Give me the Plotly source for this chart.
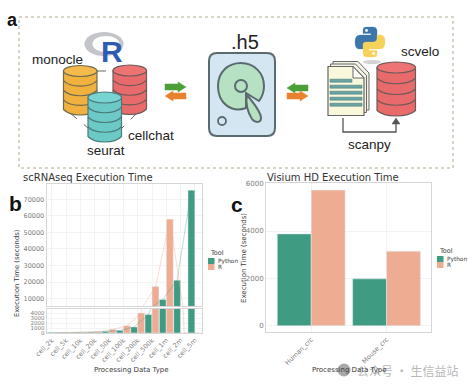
import plotly.graph_objects as go

W, H = 474, 389

# ---------- data ----------
sc_categories = ["cell_2k", "cell_5k", "cell_10k", "cell_20k", "cell_50k", "cell_100k",
                 "cell_200k", "cell_500k", "cell_1m", "cell_2m", "cell_5m"]
sc_python = [30, 50, 90, 150, 300, 500, 1200, 3700, 9500, 21200, 75500]
sc_r = [40, 70, 120, 250, 700, 1450, 4000, 17400, 58000, 0, 0]
hd_categories = ["Human_crc", "Mouse_crc"]
hd_python = [3880, 1980]
hd_r = [5730, 3150]
upper_ticks = [10000, 20000, 30000, 40000, 50000, 60000, 70000]
lower_ticks = [0, 1000, 2000, 3000, 4000]
hd_ticks = [0, 2000, 4000, 6000]

GREEN = "#409b83"
SALMON = "#eeac92"
GREY = "#7d7d7d"
DARK = "#3a3a3a"
BORDER = "#d6d6d6"
SANS = "DejaVu Sans"
ARIAL = "Liberation Sans"


def dom_x(a, b):
    return [a / W, b / W]


def dom_y(top, bottom):
    return [1 - bottom / H, 1 - top / H]


fig = go.Figure()
idx = list(range(len(sc_categories)))
hd_idx = list(range(len(hd_categories)))

for xa, ya in (("x", "y"), ("x2", "y2")):
    fig.add_trace(go.Bar(x=idx, y=sc_python, name="Python", marker_color=GREEN, xaxis=xa, yaxis=ya,
                         showlegend=False, width=0.48, offset=-0.49))
    fig.add_trace(go.Bar(x=idx, y=sc_r, name="R", marker_color=SALMON, xaxis=xa, yaxis=ya,
                         showlegend=False, width=0.48, offset=0.0))
    fig.add_trace(go.Scatter(x=[i - 0.25 for i in idx], y=sc_python, mode="lines", xaxis=xa, yaxis=ya,
                             line=dict(color="rgba(64,155,131,0.35)", width=1), showlegend=False))
    fig.add_trace(go.Scatter(x=[i + 0.25 for i in idx], y=sc_r, mode="lines", xaxis=xa, yaxis=ya,
                             line=dict(color="rgba(238,172,146,0.4)", width=1), showlegend=False))

fig.add_trace(go.Bar(x=hd_idx, y=hd_python, name="Python", marker_color=GREEN, xaxis="x3", yaxis="y3",
                     showlegend=False, width=0.45, offset=-0.45))
fig.add_trace(go.Bar(x=hd_idx, y=hd_r, name="R", marker_color=SALMON, xaxis="x3", yaxis="y3",
                     showlegend=False, width=0.45, offset=0.0))
# transparent full-canvas layer, its axes are in page pixels and carry the drawing of panel a
fig.add_trace(go.Scatter(x=[0], y=[0], mode="markers", marker=dict(opacity=0), xaxis="x4", yaxis="y4",
                         showlegend=False, hoverinfo="skip"))

ax_common = dict(showline=True, linecolor=BORDER, linewidth=1, mirror=True, zeroline=False,
                 gridcolor="#f3f3f3", gridwidth=1, ticks="", automargin=False)
hidden = dict(domain=[0, 1], showline=False, showgrid=False, zeroline=False, showticklabels=False, ticks="",
              fixedrange=True, automargin=False)
fig.update_layout(
    width=W, height=H, margin=dict(l=0, r=0, t=0, b=0, pad=0), paper_bgcolor="white", plot_bgcolor="rgba(0,0,0,0)",
    barmode="overlay", showlegend=False, font=dict(family=SANS),
    xaxis=dict(domain=dom_x(46.5, 202), anchor="y", range=[-0.37, 10.49], tickvals=idx, ticktext=[""] * len(idx),
               **ax_common),
    yaxis=dict(domain=dom_y(184, 306), anchor="x", range=[5600, 79200], tickvals=upper_ticks, tickformat="d",
               tickfont=dict(size=6.5, color=GREY), **ax_common),
    xaxis2=dict(domain=dom_x(46.5, 202), anchor="y2", range=[-0.37, 10.49], tickvals=idx, ticktext=sc_categories,
                tickangle=-45, tickfont=dict(size=6.5, color=GREY), **ax_common),
    yaxis2=dict(domain=dom_y(309, 333), anchor="x2", range=[0, 4800], tickvals=lower_ticks, tickformat="d",
                tickfont=dict(size=5.5, color=GREY), **ax_common),
    xaxis3=dict(domain=dom_x(266, 431), anchor="y3", range=[-0.6, 1.59], tickvals=hd_idx, ticktext=hd_categories,
                tickangle=-45, tickfont=dict(size=6.5, color=GREY), **ax_common),
    yaxis3=dict(domain=dom_y(183, 332), anchor="x3", range=[-266, 6030], tickvals=hd_ticks, tickformat="d",
                tickfont=dict(size=7, color=GREY), **ax_common),
    xaxis4=dict(anchor="y4", range=[0, W], **hidden),
    yaxis4=dict(anchor="x4", range=[H, 0], **hidden),
)

shapes, notes = [], []


def shape(kind, **kw):
    kw.setdefault("line", dict(width=0))
    shapes.append(dict(type=kind, xref="x4", yref="y4", layer="above", **kw))


def path(d, fill="rgba(0,0,0,0)", color="#555555", width=1.0, dash=None):
    line = dict(color=color, width=width)
    if dash:
        line["dash"] = dash
    shape("path", path=d, fillcolor=fill, line=line)


def line(x0, y0, x1, y1, color="#555555", width=1.0, dash=None):
    l = dict(color=color, width=width)
    if dash:
        l["dash"] = dash
    shape("line", x0=x0, y0=y0, x1=x1, y1=y1, line=l)


def ellipse(cx, cy, rx, ry, fill, color=None, width=1.0):
    shape("circle", x0=cx - rx, x1=cx + rx, y0=cy - ry, y1=cy + ry, fillcolor=fill,
          line=dict(color=color or fill, width=width if color else 0))


def rect(x0, y0, x1, y1, fill, color=None, width=1.0):
    shape("rect", x0=x0, x1=x1, y0=y0, y1=y1, fillcolor=fill,
          line=dict(color=color or fill, width=width if color else 0))


def text(x, y, s, size, color="#222222", family=ARIAL, angle=0, xanchor="center", bold=False):
    notes.append(dict(x=x, y=y, xref="x4", yref="y4", text=f"<b>{s}</b>" if bold else s, showarrow=False,
                      xanchor=xanchor, yanchor="middle", textangle=angle,
                      font=dict(size=size, color=color, family=family)))


def arc(x0, x1, y, ry):
    return f"C {x0 + 0.2 * (x1 - x0)},{y + ry * 1.33} {x1 - 0.2 * (x1 - x0)},{y + ry * 1.33} {x1},{y}"


def cylinder(x0, x1, top, bottom, fill, light, stroke, bands=4):
    ry = 5.5
    yt, yb = top + ry, bottom - ry
    path(f"M {x0},{yt} L {x0},{yb} {arc(x0, x1, yb, ry)} L {x1},{yt} Z", fill=fill, color=stroke, width=1.2)
    step = (yb - yt) / bands
    for i in range(1, bands):
        y = yt + i * step
        path(f"M {x0},{y} {arc(x0, x1, y, ry)}", color=stroke, width=1.2)
    ellipse((x0 + x1) / 2, yt, (x1 - x0) / 2, ry, light, stroke, 1.2)


def arrow(x0, x1, y, color):
    d = 1 if x1 > x0 else -1
    n = x1 - d * 8
    path(f"M {x0},{y - 3} L {n},{y - 3} L {n},{y - 5} L {x1},{y} L {n},{y + 5} L {n},{y + 3} L {x0},{y + 3} Z",
         fill=color, color=color, width=0.5)


# frame of panel a
DOT = "#cdc8b4"
path("M 19,17 L 453,17 L 453,168 L 19,168 Z", color=DOT, width=1.5, dash="dot")

# R logo
ellipse(104, 44, 19.5, 12, "#c3c5c9")
ellipse(106, 44, 13.5, 8, "white")
text(112, 51.5, "R", 30, color="#2c5db3", bold=True)

# databases of the left group
DASH = "#666666"
line(97, 71, 113, 71, DASH, 1, "dash")
line(70, 113, 88, 128, DASH, 1, "dash")
line(137, 113, 122, 128, DASH, 1, "dash")
cylinder(63.5, 97, 65.5, 115, "#f1b13e", "#f4bb4c", "#6e6a50")
cylinder(113, 146.5, 65, 114.5, "#e96a6a", "#ee7474", "#6e5a5a")
cylinder(88, 121.5, 92, 142, "#6ccac6", "#78d4d0", "#4c7a7c")
text(57, 59, "monocle", 13.5)
text(151, 135, "cellchat", 13.5)
text(105.5, 150, "seurat", 13.5)

arrow(165, 186, 87, "#4c9f38")
arrow(186, 165, 96, "#e9822f")

# hard disk
text(245, 42, ".h5", 20)
DISK = "#5b6a6f"
path("M 217,53 L 267,53 Q 275,53 275,61 L 275,128 Q 275,136 267,136 L 217,136 Q 209,136 209,128 "
     "L 209,61 Q 209,53 217,53 Z", fill="#d3e6f1", color=DISK, width=2)
path("M 246,108 C 232,113 218,104 218,86 C 218,72 228,63 241,63 C 254,63 264,73 264,86 C 264,92 262,97 259,101 "
     "L 246,93 Z", fill="#b6e2c3", color=DISK, width=2)
ellipse(241, 86, 6, 6, "#b6e2c3", DISK, 2)
path("M 247,95 C 252,101 261,112 261,118 C 261,123 255,123 252,119 C 248,113 245,103 247,95 Z",
     fill="#b6e2c3", color=DISK, width=2)
ellipse(222, 121, 4, 4, "#d3e6f1", DISK, 1.8)

arrow(308, 287, 88, "#4c9f38")
arrow(287, 308, 96, "#e9822f")

# python logo
ellipse(372, 62, 9, 2, "#d3d3d6")
BLUE_OUT = [(-7, -12), (-7, -15), (-4, -15), (3, -15), (7, -15), (7, -11), (7, -3), (7, 0), (4, 0), (-3, 0), (-7, 0),
            (-7, 4), (-7, 7), (-11, 7), (-15, 7), (-15, 0), (-15, -7), (-10, -7), (1, -7), (1, -8.5), (-7, -8.5)]


def logo(cx, cy, sign, fill):
    p = [(cx + sign * a, cy + sign * b) for a, b in BLUE_OUT]
    f = lambda q: f"{q[0]},{q[1]}"
    d = (f"M {f(p[0])} Q {f(p[1])} {f(p[2])} L {f(p[3])} Q {f(p[4])} {f(p[5])} L {f(p[6])} Q {f(p[7])} {f(p[8])} "
         f"L {f(p[9])} Q {f(p[10])} {f(p[11])} L {f(p[12])} L {f(p[13])} Q {f(p[14])} {f(p[15])} "
         f"Q {f(p[16])} {f(p[17])} L {f(p[18])} L {f(p[19])} L {f(p[20])} Z")
    path(d, fill=fill, color=fill, width=0.3)
    ellipse(cx + sign * -3.5, cy + sign * -11.5, 1.4, 1.4, "white")


logo(370, 42, 1, "#3c77ab")
logo(370, 42, -1, "#f5d35a")

# document stack
for off in (5, 2.5):
    path(f"M {328 + off},{66.5 - off} L {353 + off},{66.5 - off} L {364 + off},{78 - off} L {364 + off},{115 - off} "
         f"L {328 + off},{115 - off} Z", fill="#f4f3e6", color="#666666", width=1)
path("M 328,66.5 L 353,66.5 L 364,78 L 364,115.5 L 328,115.5 Z", fill="#faf8dc", color="#666666", width=1.2)
path("M 353,66.5 L 353,78 L 364,78 Z", fill="#ffffff", color="#666666", width=1)
for y, x1 in ((80.7, 352), (86.7, 362), (92.7, 362), (98.7, 362), (104.7, 362)):
    rect(330, y - 1.5, x1, y + 1.5, "#6aa4a4", "#4f7f80", 0.6)

cylinder(377, 415.5, 62, 116, "#e96a6a", "#ee7474", "#6e5a5a")
text(420, 51, "scvelo", 13.5)
path("M 343,118 L 343,132 L 396,132 L 396,123", color="#555555", width=1.3)
path("M 392,124 L 396,118 L 400,124 Z", fill="#555555", color="#555555", width=0.5)
text(369, 144, "scanpy", 13.5)

# panel letters and chart titles
text(12, 20, "a", 18, color="#111111", xanchor="center", bold=True)
text(15.5, 203, "b", 21, color="#111111", bold=True, family="Liberation Sans")
text(237, 204, "c", 21, color="#111111", bold=True, family="Liberation Sans")
text(21, 177, "scRNAseq Execution Time", 10, color="#333333", family=SANS, xanchor="left")
text(265, 177, "Visium HD Execution Time", 10, color="#333333", family=SANS, xanchor="left")
text(17, 273, "Execution Time (seconds)", 6.8, color=DARK, family=SANS, angle=-90)
text(244, 258, "Execution Time (seconds)", 7, color=DARK, family=SANS, angle=-90)
text(131, 370, "Processing Data Type", 7, color=DARK, family=SANS)

# watermark sits under the title of panel c
ellipse(344, 370, 6.5, 6.5, "#a9a9a9")
text(407, 370, "公众号 · 生信益站", 12, color="#b8b8b8", family="Noto Sans CJK SC")
text(349, 370, "Processing Data Type", 7, color=DARK, family=SANS)


def legend(x, y):
    text(x, y, "Tool", 6.5, color=DARK, family=SANS, xanchor="left")
    rect(x, y + 5, x + 6.5, y + 11, GREEN)
    rect(x, y + 11, x + 6.5, y + 17, SALMON)
    text(x + 7.5, y + 8, "Python", 5.8, color=DARK, family=SANS, xanchor="left")
    text(x + 7.5, y + 14, "R", 5.8, color=DARK, family=SANS, xanchor="left")


legend(208, 253)
legend(437, 251)

fig.update_layout(shapes=shapes, annotations=notes)
fig.write_html("out.html", config={"displayModeBar": False},
               post_script="document.body.style.margin='0';document.body.style.overflow='hidden';")
